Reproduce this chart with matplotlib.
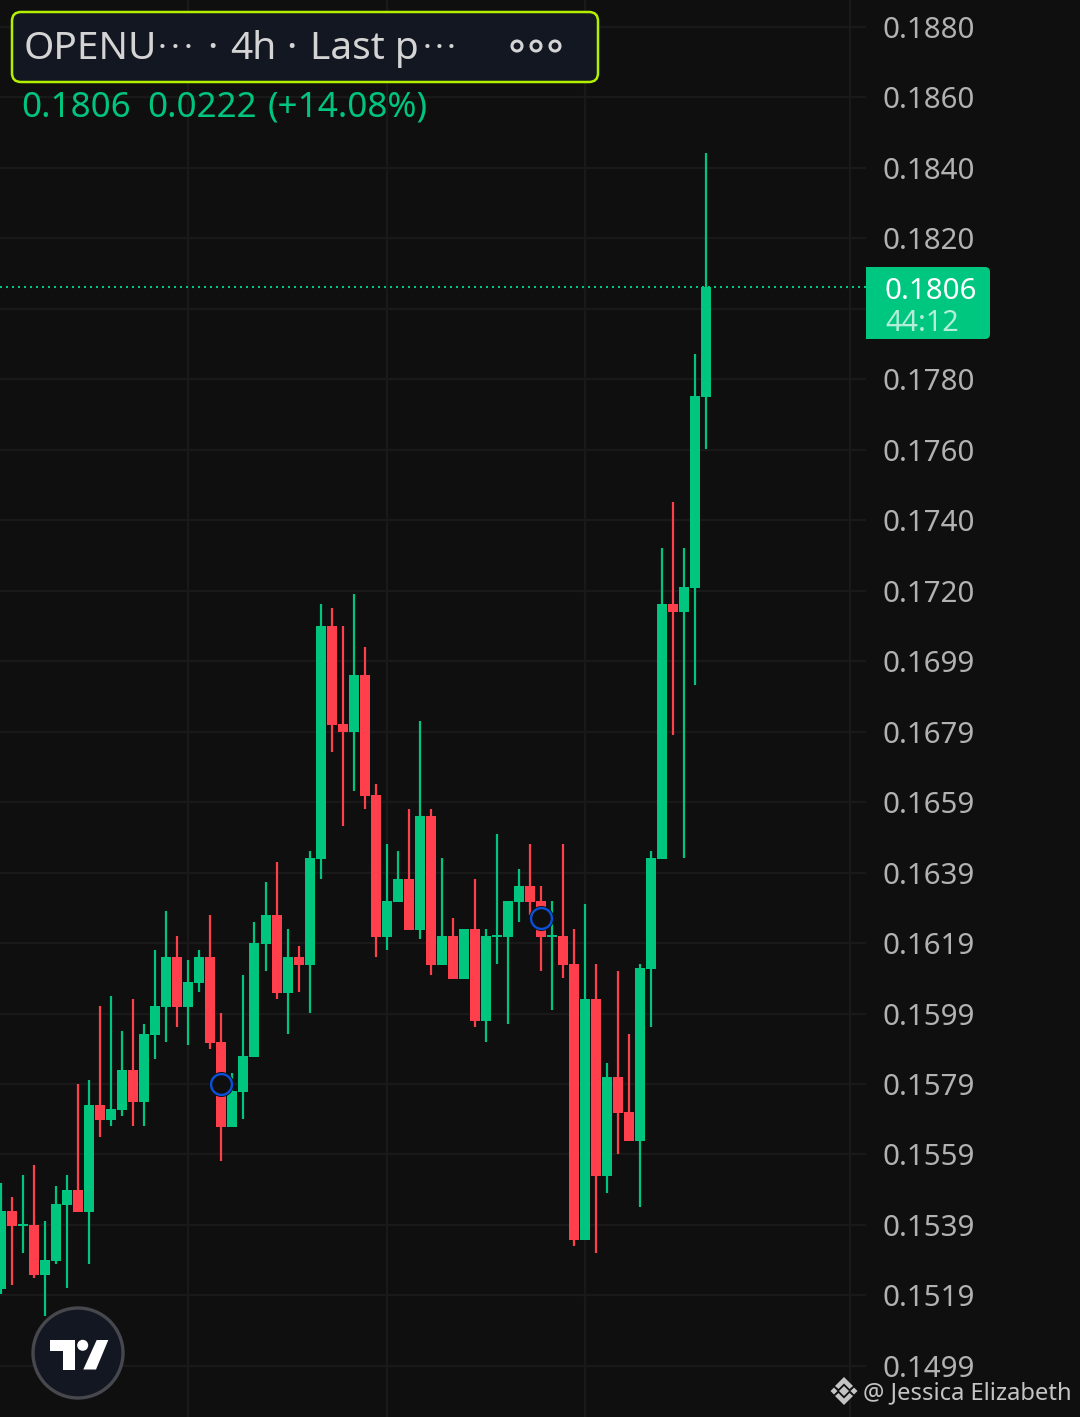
import matplotlib
matplotlib.use("Agg")
import matplotlib.pyplot as plt
from matplotlib.patches import Circle, FancyBboxPatch, Polygon, Rectangle

plt.rcParams['font.family'] = ['Noto Sans', 'DejaVu Sans']

# candles, oldest first
opens = [.15210, .15432, .15389, .15392, .15250, .15289, .15449, .15491, .15429, .15733,
         .15691, .15719, .15833, .15742, .15932, .16012, .16154, .16012, .16080, .16154,
         .15913, .15671, .15770, .15870, .16191, .16274, .16052, .16154, .16132, .16433,
         .17096, .16817, .16794, .16957, .16615, .16211, .16311, .16376, .16231, .16555,
         .16132, .16214, .16092, .16234, .15972, .16212, .16211, .16311, .16356, .16314,
         .16212, .16214, .16134, .15349, .16035, .15531, .15813, .15713, .15631, .16120,
         .16433, .17159, .17136, .17204, .17748]
closes = [.15432, .15389, .15393, .15250, .15292, .15452, .15491, .15429, .15733, .15691,
          .15722, .15833, .15742, .15935, .16015, .16154, .16012, .16083, .16154, .15910,
          .15671, .15773, .15873, .16194, .16274, .16052, .16154, .16132, .16436, .17096,
          .16814, .16794, .16957, .16612, .16211, .16314, .16376, .16231, .16555, .16132,
          .16214, .16092, .16234, .15972, .16214, .16216, .16314, .16356, .16311, .16211,
          .16216, .16132, .15349, .16035, .15531, .15813, .15711, .15631, .16123, .16436,
          .17159, .17136, .17207, .17750, .18060]
highs = [.15511, .15472, .15534, .15563, .15403, .15503, .15534, .15793, .15804, .16015,
         .16043, .15944, .16035, .15964, .16174, .16285, .16214, .16146, .16174, .16274,
         .15995, .15824, .16103, .16254, .16368, .16425, .16234, .16186, .16456, .17159,
         .17147, .17096, .17187, .17036, .16647, .16476, .16456, .16575, .16826, .16575,
         .16436, .16265, .16234, .16376, .16234, .16504, .16314, .16405, .16476, .16356,
         .16314, .16476, .16234, .16305, .16134, .15853, .16115, .15935, .16134, .16456,
         .17318, .17449, .17318, .17870, .18442]
lows = [.15196, .15221, .15312, .15241, .15133, .15281, .15213, .15429, .15281, .15642,
        .15674, .15702, .15674, .15674, .15864, .15913, .15955, .15904, .16055, .15893,
        .15574, .15671, .15693, .15870, .16115, .16035, .15935, .16055, .15995, .16376,
        .16738, .16527, .16627, .16575, .16154, .16174, .16311, .16231, .16206, .16103,
        .16132, .16092, .16092, .15955, .15913, .16134, .15964, .16254, .16274, .16115,
        .16004, .16095, .15332, .15349, .15312, .15483, .15594, .15631, .15443, .15955,
        .16433, .16786, .16436, .16928, .17600]

# price axis, the labels are not evenly rounded in the original
grid_prices = [.18800, .18600, .18399, .18199, .17998, .17798, .17597, .17397, .17196, .16996,
               .16795, .16595, .16394, .16194, .15993, .15793, .15592, .15392, .15191, .14991]
price_labels = ['0.1880', '0.1860', '0.1840', '0.1820', '0.1800', '0.1780', '0.1760', '0.1740',
                '0.1720', '0.1699', '0.1679', '0.1659', '0.1639', '0.1619', '0.1599', '0.1579',
                '0.1559', '0.1539', '0.1519', '0.1499']
# 0.1800 is hidden behind the last price tag
hidden_label = '0.1800'
time_grid = [17, 35, 53, 77]
event_index = [20, 49]
event_price = [.15793, .16265]
last_price = .18060

BG = '#0f0f0f'
GRID = '#191919'
GREEN = '#00c57f'
RED = '#ff3f4c'
LABEL = '#b2b2b2'
Y_TOP = 0.188768
Y_BOTTOM = 0.14845

fig = plt.figure(figsize=(10.8, 14.17), dpi=100, facecolor=BG)
ax = fig.add_axes([0, 0, 1, 1], facecolor=BG)
ax.set_xlim(-0.0907, 97.9)
ax.set_ylim(Y_BOTTOM, Y_TOP)
ax.axis('off')

# grid stops at the price scale
ax.hlines(grid_prices, -0.0907, 78.5, color=GRID, lw=1.6, zorder=1)
ax.vlines(time_grid, Y_BOTTOM, Y_TOP, color=GRID, lw=1.6, zorder=1)

# candles
x = list(range(len(opens)))
colors = [GREEN if c >= o else RED for o, c in zip(opens, closes)]
ax.vlines(x, lows, highs, color=colors, lw=1.6, zorder=2, capstyle='butt')
bottoms = [min(o, c) for o, c in zip(opens, closes)]
heights = [abs(c - o) for o, c in zip(opens, closes)]
ax.bar(x, heights, width=0.907, bottom=bottoms, color=colors, linewidth=0, zorder=3)

# last price line
ax.hlines(last_price, -0.0907, 78.5, color=GREEN, lw=1.5, linestyles=(0, (0.96, 1.92)), zorder=4)

# blue circles on the chart
ax.plot(event_index, event_price, ls='none', marker='o', ms=18, mfc=BG, mec='none', zorder=5)
ax.plot(event_index, event_price, ls='none', marker='o', ms=15, mfc=BG, mec='#0a50d8', mew=1.7, zorder=6)

# overlay in pixel coordinates for the interface pieces
ov = fig.add_axes([0, 0, 1, 1], facecolor='none')
ov.set_xlim(0, 1080)
ov.set_ylim(1417, 0)
ov.axis('off')

# price scale text
for p, lab in zip(grid_prices, price_labels):
    if lab == hidden_label:
        continue
    ypx = (Y_TOP - p) / (Y_TOP - Y_BOTTOM) * 1417
    ov.text(883, ypx, lab, color=LABEL, fontsize=21.2, va='center_baseline', ha='left', zorder=5)

# title box
ov.add_patch(FancyBboxPatch((19, 19), 572, 56, boxstyle='round,pad=7,rounding_size=9',
                            fc='#131722', ec='#b2f000', lw=1.8, zorder=6))
title_color = '#d4d4d4'
for tx, s in [(24, 'OPENU'), (207, '\u00b7'), (230, '4h'), (286, '\u00b7'), (310, 'Last p')]:
    ov.text(tx, 44.5, s, color=title_color, fontsize=28, va='center_baseline', ha='left', zorder=7)
# truncated text, the dots sit further apart than the font's own
for tx in [158, 171, 184, 423, 435, 447]:
    ov.text(tx, 44.5, '\u00b7', color=title_color, fontsize=24, va='center_baseline', ha='left', zorder=7)
for cx in [517, 536, 555]:
    ov.add_patch(Circle((cx, 46), 5, fc='none', ec=title_color, lw=2.2, zorder=7))

# values under the box
ov.text(21.5, 104, '0.1806', color=GREEN, fontsize=25.2, va='center_baseline', zorder=7)
ov.text(147.5, 104, '0.0222', color=GREEN, fontsize=25.2, va='center_baseline', zorder=7)
ov.text(268, 104, '(+14.08%)', color=GREEN, fontsize=25.2, va='center_baseline', zorder=7)

# last price tag
ov.add_patch(FancyBboxPatch((871, 272), 114, 62, boxstyle='round,pad=5,rounding_size=5',
                            fc='#00c77f', ec='none', zorder=6))
ov.add_patch(Rectangle((866, 267), 20, 72, fc='#00c77f', ec='none', zorder=6))
ov.text(884, 288, '0.1806', color='white', fontsize=21.2, va='center_baseline', zorder=7)
ov.text(885, 320, '44:12', color='#b3eed8', fontsize=20.7, va='center_baseline', zorder=7)

# tradingview badge
ov.add_patch(Circle((78, 1353), 45, fc='#131722', ec='#46484e', lw=2.4, zorder=6))
ov.add_patch(Polygon([(50, 1340), (75, 1340), (75, 1370), (63.3, 1370), (63.3, 1351), (50, 1351)],
                     fc='white', ec='none', zorder=7))
ov.add_patch(Circle((82.7, 1345.3), 5.5, fc='white', ec='none', zorder=7))
ov.add_patch(Polygon([(96.7, 1340), (108.3, 1340), (96, 1369.5), (83.3, 1369.5)],
                     fc='white', ec='none', zorder=7))

# watermark
mark = '#c4c4c4'
ov.add_patch(Polygon([(844, 1386), (849, 1391), (844, 1396), (839, 1391)], fc=mark, ec='none', zorder=7))
ov.add_patch(Polygon([(834, 1387.5), (837.5, 1391), (834, 1394.5), (830.5, 1391)], fc=mark, ec='none', zorder=7))
ov.add_patch(Polygon([(854, 1387.5), (857.5, 1391), (854, 1394.5), (850.5, 1391)], fc=mark, ec='none', zorder=7))
ov.add_patch(Polygon([(844, 1377), (853, 1386), (849.5, 1389), (844, 1383.5), (838.5, 1389), (835, 1386)],
                     fc=mark, ec='none', zorder=7))
ov.add_patch(Polygon([(844, 1405), (853, 1396), (849.5, 1393), (844, 1398.5), (838.5, 1393), (835, 1396)],
                     fc=mark, ec='none', zorder=7))
ov.text(863, 1390, '@ Jessica Elizabeth', color=mark, fontsize=17.1, va='center_baseline', zorder=7)

fig.savefig('out.png', dpi=100, facecolor=BG)
